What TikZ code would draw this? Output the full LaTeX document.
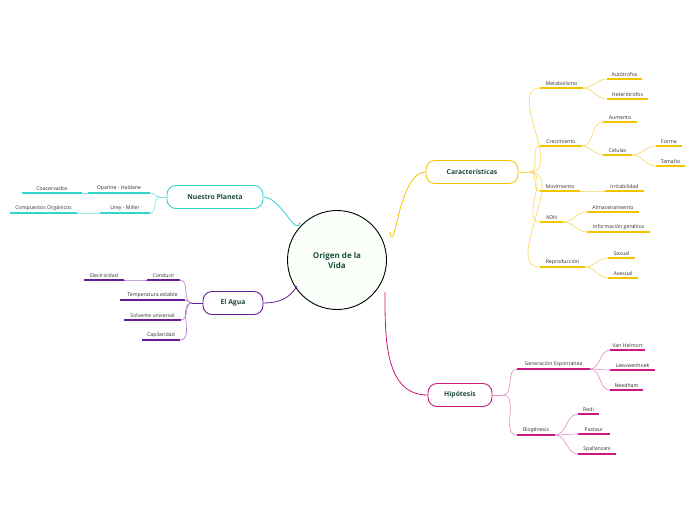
\documentclass[tikz,border=0pt]{standalone}
\usepackage{fontspec}
\setmainfont{Open Sans}
\definecolor{yel}{HTML}{F5C400}
\definecolor{yell}{HTML}{FAD95A}
\definecolor{cya}{HTML}{33D3CE}
\definecolor{cyal}{HTML}{7FE3E0}
\definecolor{pur}{HTML}{6A1B9A}
\definecolor{purl}{HTML}{A77BC9}
\definecolor{pnk}{HTML}{C8197E}
\definecolor{pnkl}{HTML}{E58ABF}
\definecolor{tgreen}{HTML}{1B4D3E}
\tikzset{
 topic/.style={draw=#1,line width=0.9pt,rounded corners=9pt,fill=white,minimum height=23pt,inner xsep=10pt,font=\fontsize{6.8}{8}\selectfont\bfseries,text=tgreen},
 lbl/.style={font=\fontsize{5.2}{6}\selectfont,text=black!80,inner sep=1pt,anchor=south},
 ul/.style={line width=1.3pt,draw=#1},
 con/.style={line width=0.6pt,draw=#1},
}
% \leaf{name}{x1}{x2}{y}{text}{color}
\newcommand\leaf[6]{%
 \coordinate (#1-l) at (#2,#4); \coordinate (#1-r) at (#3,#4);
 \draw[ul=#6] (#1-l) -- (#1-r);
 \node[lbl] (#1) at ({(#2+#3)/2},#4-1.5) {#5};}
\newcommand\cc[3]{\draw[con=#3] (#1) to[out=0,in=180] (#2);}
\newcommand\cl[3]{\draw[con=#3] (#1) to[out=180,in=0] (#2);}
\begin{document}
\begin{tikzpicture}[x=1pt,y=-1pt]
\useasboundingbox (0,0) rectangle (696,520);
\fill[white] (0,0) rectangle (696,520);
% center
\node[circle,draw=black,line width=0.9pt,fill=green!2,minimum size=99pt,align=center,font=\fontsize{8}{10}\selectfont\bfseries,text=tgreen] (c) at (337,260) {Origen de la\\Vida};
% topics
\node[topic=yel,minimum width=92pt] (car) at (472,172) {Características};
\node[topic=cya,minimum width=96pt] (np) at (215,197) {Nuestro Planeta};
\node[topic=pur,minimum width=60pt] (ag) at (233,303) {El Agua};
\node[topic=pnk,minimum width=64pt] (hi) at (460,395) {Hipótesis};
\coordinate (c1) at (390,232); \coordinate (c2) at (300,222);
\coordinate (c3) at (297,286); \coordinate (c4) at (385,292);
\draw[con=yel,line width=0.8pt] (c1) to[out=-80,in=180] (car.west);
\draw[con=cya,line width=0.8pt] (c2) to[out=-100,in=0] (np.east);
\draw[con=pur,line width=0.8pt] (c3) to[out=-120,in=0] (ag.east);
\draw[con=pnk,line width=0.8pt] (c4) to[out=-90,in=180] (hi.west);
% Caracteristicas
\coordinate (car-o) at (530,172);
\draw[con=yell] (car.east) -- (car-o);
\leaf{met}{540}{583}{88}{Metabolismo}{yel}
\leaf{aut}{607}{642}{79}{Autótrofos}{yel}
\leaf{het}{607}{648}{99}{Heterótrofos}{yel}
\leaf{cre}{540}{582}{146}{Crecimiento}{yel}
\leaf{aum}{603}{637}{122}{Aumento}{yel}
\leaf{cel}{603}{632}{155}{Células}{yel}
\leaf{for}{656}{682}{146}{Forma}{yel}
\leaf{tam}{656}{685}{166}{Tamaño}{yel}
\leaf{mov}{540}{580}{191}{Movimiento}{yel}
\leaf{irr}{605}{644}{191}{Irritabilidad}{yel}
\leaf{adn}{540}{563}{222}{ADN}{yel}
\leaf{alm}{587}{639}{212}{Almacenamiento}{yel}
\leaf{inf}{587}{650}{232}{Información genética}{yel}
\leaf{rep}{540}{585}{267}{Reproducción}{yel}
\leaf{sex}{608}{635}{258}{Sexual}{yel}
\leaf{ase}{608}{638}{278}{Asexual}{yel}
\cc{car-o}{met-l}{yell}\cc{car-o}{cre-l}{yell}\cc{car-o}{mov-l}{yell}\cc{car-o}{adn-l}{yell}\cc{car-o}{rep-l}{yell}
\cc{met-r}{aut-l}{yell}\cc{met-r}{het-l}{yell}
\cc{cre-r}{aum-l}{yell}\cc{cre-r}{cel-l}{yell}
\cc{cel-r}{for-l}{yell}\cc{cel-r}{tam-l}{yell}
\cc{mov-r}{irr-l}{yell}
\cc{adn-r}{alm-l}{yell}\cc{adn-r}{inf-l}{yell}
\cc{rep-r}{sex-l}{yell}\cc{rep-r}{ase-l}{yell}
% Nuestro Planeta
\leaf{opa}{88}{150}{193}{Oparine - Haldane}{cya}
\leaf{coa}{22}{82}{193}{Coacervados}{cya}
\leaf{ure}{100}{150}{213}{Urey - Miller}{cya}
\leaf{com}{10}{77}{213}{Compuestos Orgánicos}{cya}
\coordinate (np-o) at (160,197);
\draw[con=cyal] (np.west) -- (np-o);
\cl{np-o}{opa-r}{cyal}\cl{np-o}{ure-r}{cyal}
\cl{opa-l}{coa-r}{cyal}\cl{ure-l}{com-r}{cyal}
% El Agua
\leaf{con}{147}{180}{280}{Conducir}{pur}
\leaf{ele}{84}{124}{280}{Electricidad}{pur}
\leaf{tem}{120}{185}{300}{Temperatura estable}{pur}
\leaf{sol}{124}{181}{320}{Solvente universal}{pur}
\leaf{cap}{142}{180}{340}{Capilaridad}{pur}
\coordinate (ag-o) at (192,303);
\draw[con=pur] (ag.west) -- (ag-o);
\cl{ag-o}{con-r}{purl}\cl{ag-o}{tem-r}{purl}\cl{ag-o}{sol-r}{purl}\cl{ag-o}{cap-r}{purl}
\cl{con-l}{ele-r}{purl}
% Hipotesis
\coordinate (hi-o) at (503,395);
\draw[con=pnkl] (hi.east) -- (hi-o);
\leaf{gen}{517}{590}{369}{Generación Espontánea}{pnk}
\leaf{van}{610}{645}{350}{Van Helmort}{pnk}
\leaf{lee}{610}{655}{370}{Leeuwenhoek}{pnk}
\leaf{nee}{610}{643}{390}{Needham}{pnk}
\leaf{bio}{517}{555}{435}{Biogénesis}{pnk}
\leaf{red}{578}{599}{414}{Redi}{pnk}
\leaf{pas}{578}{610}{434}{Pasteur}{pnk}
\leaf{spa}{578}{616}{454}{Spallanzani}{pnk}
\cc{hi-o}{gen-l}{pnkl}\cc{hi-o}{bio-l}{pnkl}
\cc{gen-r}{van-l}{pnkl}\cc{gen-r}{lee-l}{pnkl}\cc{gen-r}{nee-l}{pnkl}
\cc{bio-r}{red-l}{pnkl}\cc{bio-r}{pas-l}{pnkl}\cc{bio-r}{spa-l}{pnkl}
\end{tikzpicture}
\end{document}
